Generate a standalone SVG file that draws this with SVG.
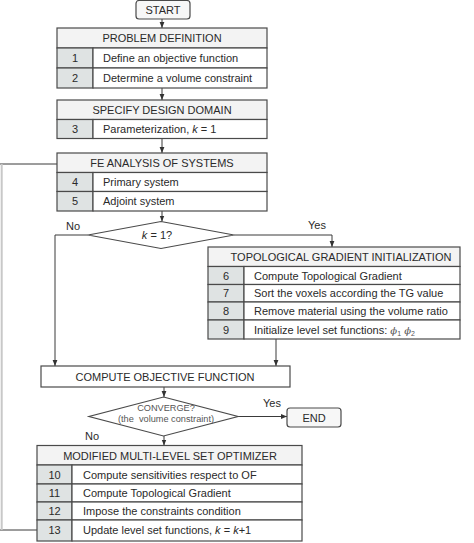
<svg xmlns="http://www.w3.org/2000/svg" width="474" height="543" viewBox="0 0 474 543">
<style>
text{font-family:"Liberation Sans",Arial,sans-serif;font-size:11px;fill:#2a2a2a}
.c{text-anchor:middle}
.hd{fill:#f3f3f3;stroke:#4a4a4a;stroke-width:1.2}
.num{fill:#dfe3e3;stroke:#4a4a4a;stroke-width:1.2}
.cell{fill:#ffffff;stroke:#4a4a4a;stroke-width:1.2}
.term{fill:#f7f7f7;stroke:#4a4a4a;stroke-width:1.2}
.dia{fill:#ffffff;stroke:#4a4a4a;stroke-width:1.2}
.ln{fill:none;stroke:#3a3a3a;stroke-width:1}
.arr{fill:none;stroke:#3a3a3a;stroke-width:1;marker-end:url(#ah)}
.it{font-style:italic}
.sm{font-size:9.2px;fill:#555}
.phi{font-family:"DejaVu Serif",serif;font-style:italic;font-size:10px;fill:#555}
.sub{font-size:7px;fill:#555}
</style>
<defs>
<marker id="ah" markerUnits="userSpaceOnUse" markerWidth="6" markerHeight="6" viewBox="0 0 6 6" refX="6" refY="3" orient="auto">
<path d="M0,0.6 L6,3 L0,5.4 Z" fill="#333"/>
</marker>
</defs>

<g id="connectors">
<line class="arr" x1="162" y1="19" x2="162" y2="28"/>
<line class="arr" x1="162" y1="88" x2="162" y2="100"/>
<line class="arr" x1="162" y1="138.5" x2="162" y2="153"/>
<line class="arr" x1="162" y1="211" x2="162" y2="221.5"/>
<polyline class="arr" points="88,235 55,235 55,366"/>
<polyline class="arr" points="234,235 332,235 332,247"/>
<line class="arr" x1="276" y1="339" x2="276" y2="366"/>
<line class="arr" x1="164" y1="387" x2="164" y2="397"/>
<line class="arr" x1="238" y1="416.5" x2="287" y2="416.5"/>
<line class="arr" x1="164" y1="436" x2="164" y2="445.5"/>
<line class="ln" x1="37" y1="530" x2="0" y2="530"/>
<line class="ln" x1="0" y1="164" x2="57" y2="164"/>
<line x1="1.7" y1="164" x2="1.7" y2="530" stroke="#c8c8c8" stroke-width="2"/>
</g>

<g id="start">
<rect class="term" x="136" y="0.5" width="54" height="18.5" rx="3"/>
<text class="c" x="163" y="14">START</text>
</g>

<g id="problem-definition">
<rect class="hd" x="57" y="28" width="210" height="20"/>
<text class="c" x="162" y="42">PROBLEM DEFINITION</text>
<rect class="num" x="57" y="48" width="36" height="20"/>
<rect class="cell" x="93" y="48" width="174" height="20"/>
<text class="c" x="75" y="62">1</text>
<text x="103" y="62">Define an objective function</text>
<rect class="num" x="57" y="68" width="36" height="20"/>
<rect class="cell" x="93" y="68" width="174" height="20"/>
<text class="c" x="75" y="82">2</text>
<text x="103" y="82">Determine a volume constraint</text>
</g>

<g id="specify-design-domain">
<rect class="hd" x="57" y="100" width="210" height="19.5"/>
<text class="c" x="162" y="114">SPECIFY DESIGN DOMAIN</text>
<rect class="num" x="57" y="119.5" width="36" height="19"/>
<rect class="cell" x="93" y="119.5" width="174" height="19"/>
<text class="c" x="75" y="133">3</text>
<text x="103" y="133">Parameterization, <tspan class="it">k</tspan> = 1</text>
</g>

<g id="fe-analysis">
<rect class="hd" x="57" y="153" width="210" height="19.5"/>
<text class="c" x="162" y="167">FE ANALYSIS OF SYSTEMS</text>
<rect class="num" x="57" y="172.5" width="36" height="19"/>
<rect class="cell" x="93" y="172.5" width="174" height="19"/>
<text class="c" x="75" y="186">4</text>
<text x="103" y="186">Primary system</text>
<rect class="num" x="57" y="191.5" width="36" height="19.5"/>
<rect class="cell" x="93" y="191.5" width="174" height="19.5"/>
<text class="c" x="75" y="205">5</text>
<text x="103" y="205">Adjoint system</text>
</g>

<g id="decision-k">
<polygon class="dia" points="161,221.5 234,235 161,248.5 88,235"/>
<text class="c" x="157" y="239"><tspan class="it">k</tspan> = 1?</text>
<text x="66" y="230">No</text>
<text x="308" y="229">Yes</text>
</g>

<g id="tg-initialization">
<rect class="hd" x="208" y="247" width="252" height="19.5"/>
<text class="c" x="341" y="261">TOPOLOGICAL GRADIENT INITIALIZATION</text>
<rect class="num" x="208" y="266.5" width="36" height="18"/>
<rect class="cell" x="244" y="266.5" width="216" height="18"/>
<text class="c" x="226" y="279.5">6</text>
<text x="254" y="279.5">Compute Topological Gradient</text>
<rect class="num" x="208" y="284.5" width="36" height="17.5"/>
<rect class="cell" x="244" y="284.5" width="216" height="17.5"/>
<text class="c" x="226" y="297">7</text>
<text x="254" y="297">Sort the voxels according the TG value</text>
<rect class="num" x="208" y="302" width="36" height="18"/>
<rect class="cell" x="244" y="302" width="216" height="18"/>
<text class="c" x="226" y="315">8</text>
<text x="254" y="315">Remove material using the volume ratio</text>
<rect class="num" x="208" y="320" width="36" height="19"/>
<rect class="cell" x="244" y="320" width="216" height="19"/>
<text class="c" x="226" y="333.5">9</text>
<text x="254" y="333.5">Initialize level set functions: <tspan class="phi">ϕ</tspan><tspan class="sub" dy="2.5">1</tspan><tspan dy="-2.5"> </tspan><tspan class="phi">ϕ</tspan><tspan class="sub" dy="2.5">2</tspan></text>
</g>

<g id="compute-objective">
<rect class="cell" x="41" y="366" width="249" height="21"/>
<text class="c" x="165" y="380.5">COMPUTE OBJECTIVE FUNCTION</text>
</g>

<g id="decision-converge">
<polygon class="dia" points="163.5,397 238,416.5 163.5,436 89,416.5"/>
<text class="c sm" x="166" y="411">CONVERGE?</text>
<text class="c sm" x="166" y="421.5" xml:space="preserve">(the  volume constraint)</text>
<text x="263" y="407">Yes</text>
<text x="85" y="440">No</text>
</g>

<g id="end">
<rect class="term" x="287" y="408" width="54" height="19" rx="3"/>
<text class="c" x="314" y="421.5">END</text>
</g>

<g id="multi-level-optimizer">
<rect class="hd" x="37" y="445.5" width="265" height="19.5"/>
<text class="c" x="170" y="459.5">MODIFIED MULTI-LEVEL SET OPTIMIZER</text>
<rect class="num" x="37" y="465" width="35" height="19"/>
<rect class="cell" x="72" y="465" width="230" height="19"/>
<text class="c" x="54.5" y="478.5">10</text>
<text x="83" y="478.5">Compute sensitivities respect to OF</text>
<rect class="num" x="37" y="484" width="35" height="18"/>
<rect class="cell" x="72" y="484" width="230" height="18"/>
<text class="c" x="54.5" y="497">11</text>
<text x="83" y="497">Compute Topological Gradient</text>
<rect class="num" x="37" y="502" width="35" height="18"/>
<rect class="cell" x="72" y="502" width="230" height="18"/>
<text class="c" x="54.5" y="515">12</text>
<text x="83" y="515">Impose the constraints condition</text>
<rect class="num" x="37" y="520" width="35" height="21"/>
<rect class="cell" x="72" y="520" width="230" height="21"/>
<text class="c" x="54.5" y="534">13</text>
<text x="83" y="534">Update level set functions, <tspan class="it">k</tspan> = <tspan class="it">k</tspan>+1</text>
</g>
</svg>
